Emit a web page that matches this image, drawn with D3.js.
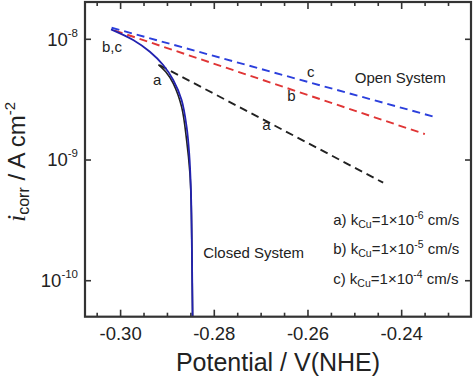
<!DOCTYPE html>
<html><head><meta charset="utf-8">
<script src="https://cdn.jsdelivr.net/npm/d3@7"></script>
<style>
html,body{margin:0;padding:0;background:#fff;}
svg{display:block;font-family:"Liberation Sans",Arial,Helvetica,sans-serif;}
</style></head>
<body><svg id="c" width="474" height="379"></svg>
<script>
// ---- data (potential V vs NHE, corrosion current A/cm2) ----
const openA = [[-0.29172, 6.12e-9], [-0.2680, 2.01e-9], [-0.24395, 6.49e-10]];
const openB = [[-0.30122, 1.18e-8], [-0.2680, 4.38e-9], [-0.23505, 1.64e-9]];
const openC = [[-0.30192, 1.247e-8], [-0.2680, 5.40e-9], [-0.2327, 2.26e-9]];
const closedA = [[-0.29193, 6.18e-9], [-0.29033, 5.36e-9], [-0.28877, 4.32e-9], [-0.28698, 2.76e-9],
  [-0.28591, 1.46e-9], [-0.28521, 7.80e-10], [-0.28495, 4.66e-10], [-0.28478, 1.80e-10], [-0.28463, 5.04e-11], [-0.28460, 1e-11]];
const closedBC = [[-0.30205, 1.21e-8], [-0.29731, 9.87e-9], [-0.29375, 7.89e-9], [-0.29091, 6.12e-9],
  [-0.28877, 4.60e-9], [-0.28698, 3.14e-9], [-0.28591, 1.89e-9], [-0.28536, 1.14e-9], [-0.28499, 5.64e-10],
  [-0.28478, 1.80e-10], [-0.28463, 5.04e-11], [-0.28460, 1e-11]];
const xTickValues = [-0.30, -0.28, -0.26, -0.24];
const xTickLabels = ["-0.30", "-0.28", "-0.26", "-0.24"];
const yTickValues = [1e-8, 1e-9, 1e-10];
const yTickExp = ["-8", "-9", "-10"];
const curveLabels = [
  {t: "b,c", x: -0.30399, y: 7.85e-9},
  {t: "a", x: -0.29311, y: 4.18e-9},
  {t: "c", x: -0.26023, y: 4.87e-9},
  {t: "b", x: -0.26444, y: 3.08e-9},
  {t: "a", x: -0.26978, y: 1.77e-9},
  {t: "Open System", x: -0.2500, y: 4.35e-9},
  {t: "Closed System", x: -0.28237, y: 1.54e-10}
];
const legendPrefix = ["a) k", "b) k", "c) k"];
const legendExp = ["-6", "-5", "-4"];
const legendY = [2.87e-10, 1.65e-10, 9.48e-11];
const legendX = -0.25462;

// ---- layout ----
const L = 85, R = 471, T = 2, B = 316.7;
const svg = d3.select("#c");
const x = d3.scaleLinear().domain([-0.3076, -0.2252]).range([L, R]);
const y = d3.scaleLog().domain([5.035e-11, 2.037e-8]).range([B, T]);
const ink = "#333";

svg.append("defs").append("clipPath").attr("id", "clip")
  .append("rect").attr("x", L).attr("y", T).attr("width", R - L).attr("height", B - T);

// ticks (inward)
const minor = d3.range(-0.305, -0.2252, 0.005).map(v => +v.toFixed(3));
const g = svg.append("g").attr("stroke", ink).attr("stroke-width", 1.6);
minor.forEach(v => {
  const major = xTickValues.some(m => Math.abs(m - v) < 1e-6);
  const len = major ? 7 : 4;
  g.append("line").attr("x1", x(v)).attr("x2", x(v)).attr("y1", B).attr("y2", B - len);
  g.append("line").attr("x1", x(v)).attr("x2", x(v)).attr("y1", T).attr("y2", T + len);
});
yTickValues.forEach(v => {
  g.append("line").attr("x1", L).attr("x2", L + 6).attr("y1", y(v)).attr("y2", y(v));
  g.append("line").attr("x1", R).attr("x2", R - 6).attr("y1", y(v)).attr("y2", y(v));
});

// curves
const line = d3.line().x(d => x(d[0])).y(d => y(d[1]));
const smooth = d3.line().x(d => x(d[0])).y(d => y(d[1])).curve(d3.curveCatmullRom);
const plot = svg.append("g").attr("clip-path", "url(#clip)").attr("fill", "none");
plot.append("path").datum(openA).attr("d", line).attr("stroke", "#222").attr("stroke-width", 1.9).attr("stroke-dasharray", "8,5");
plot.append("path").datum(openB).attr("d", line).attr("stroke", "#e03535").attr("stroke-width", 1.9).attr("stroke-dasharray", "8,5");
plot.append("path").datum(openC).attr("d", line).attr("stroke", "#2b3fdc").attr("stroke-width", 1.9).attr("stroke-dasharray", "8,5");
plot.append("path").datum(closedA).attr("d", smooth).attr("stroke", "#222").attr("stroke-width", 1.6);
plot.append("path").datum(closedBC).attr("d", smooth).attr("stroke", "#2222b0").attr("stroke-width", 1.8);

// frame
svg.append("rect").attr("x", L).attr("y", T).attr("width", R - L).attr("height", B - T)
  .attr("fill", "none").attr("stroke", ink).attr("stroke-width", 2.2);

// tick labels
xTickValues.forEach((v, i) => {
  svg.append("text").attr("x", x(v)).attr("y", 340).attr("text-anchor", "middle")
    .attr("font-size", 18.5).attr("fill", "#222").text(xTickLabels[i]);
});
yTickValues.forEach((v, i) => {
  const t = svg.append("text").attr("x", 78).attr("y", y(v) + 6.3).attr("text-anchor", "end")
    .attr("font-size", 18.5).attr("fill", "#222");
  t.append("tspan").text("10");
  t.append("tspan").attr("font-size", 11.5).attr("dy", -9).text(yTickExp[i]);
});

// annotations
curveLabels.forEach(d => {
  svg.append("text").attr("x", x(d.x)).attr("y", y(d.y)).attr("font-size", 15)
    .attr("fill", "#222").text(d.t);
});
legendY.forEach((v, i) => {
  const t = svg.append("text").attr("x", x(legendX)).attr("y", y(v)).attr("font-size", 15).attr("fill", "#222");
  t.append("tspan").text(legendPrefix[i]);
  t.append("tspan").attr("font-size", 10.5).attr("dy", 3).text("Cu");
  t.append("tspan").attr("dy", -3).text("=1\u00d710");
  t.append("tspan").attr("font-size", 10.5).attr("dy", -6).text(legendExp[i]);
  t.append("tspan").attr("dy", 6).text(" cm/s");
});

// axis titles
svg.append("text").attr("x", (L + R) / 2).attr("y", 371).attr("text-anchor", "middle")
  .attr("font-size", 25).attr("fill", "#222").text("Potential / V(NHE)");
const yt = svg.append("text").attr("transform", "translate(25,162) rotate(-90)")
  .attr("text-anchor", "middle").attr("font-size", 24).attr("fill", "#222");
yt.append("tspan").attr("font-family", "'Liberation Serif','Times New Roman',serif").attr("font-style", "italic").attr("font-size", 26).text("i");
yt.append("tspan").attr("font-size", 16).attr("dy", 4).text("corr");
yt.append("tspan").attr("dy", -4).text(" / A cm");
yt.append("tspan").attr("font-size", 15).attr("dy", -10).text("-2");
</script></body></html>
